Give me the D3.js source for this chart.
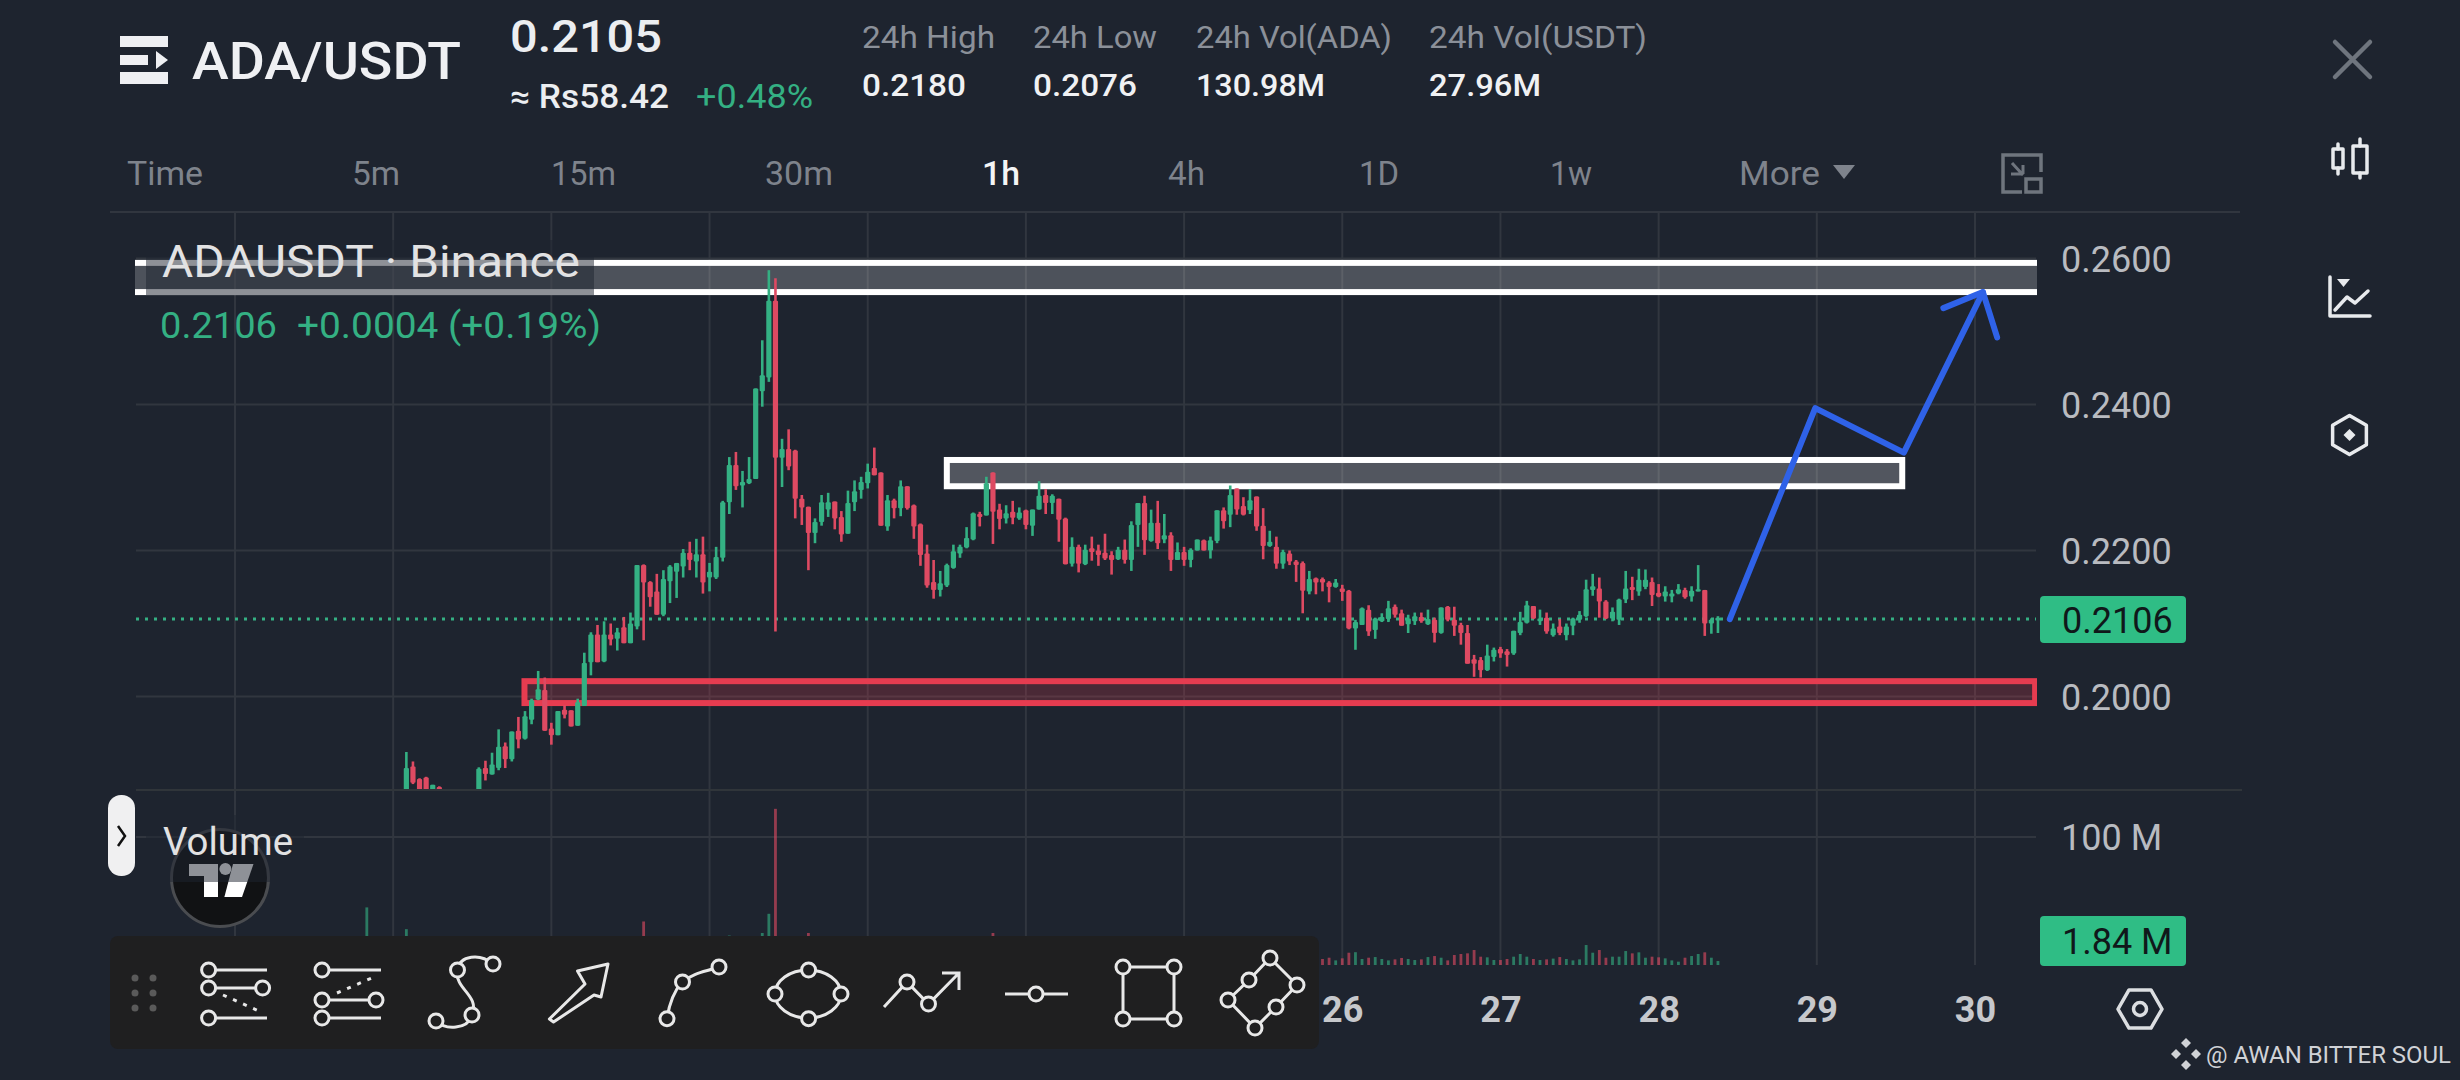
<!DOCTYPE html>
<html>
<head>
<meta charset="utf-8">
<title>ADA/USDT</title>
<script src="https://d3js.org/d3.v7.min.js"></script>
<style>
  html, body { margin: 0; padding: 0; background: #1e242f; }
  svg { display: block; font-family: Roboto, sans-serif; }
</style>
</head>
<body>
<div id="chart"></div>
<script>
// hourly candles, first one is day 19 at 20:00 (the first ones sit below the pane)
const startDay = 19 + 20 / 24;
const opens = [
  .1800,.1825,.1820,.1828,.1835,.1842,
  .1865,.1904,.1887,.1889,.1860,.1876,.1855,.1850,.1858,.1852,
  .1860,.1868,.1902,.1893,.1902,.1932,.1914,.1953,.1942,.1968,
  .1996,.2009,.1956,.1947,.1982,.1981,.1960,.1987,.2047,.2085,
  .2048,.2085,.2079,.2095,.2073,.2096,.2180,.2157,.2144,.2112,
  .2158,.2171,.2178,.2197,.2185,.2195,.2163,.2163,.2190,.2266,
  .2317,.2289,.2292,.2298,.2418,.2437,.2542,.2327,.2339,.2337,
  .2271,.2260,.2224,.2239,.2256,.2267,.2246,.2223,.2266,.2283,
  .2292,.2313,.2307,.2233,.2269,.2258,.2288,.2262,.2236,.2196,
  .2157,.2146,.2152,.2176,.2196,.2204,.2215,.2250,.2248,.2307,
  .2256,.2244,.2253,.2244,.2255,.2234,.2256,.2276,.2265,.2271,
  .2244,.2182,.2205,.2181,.2203,.2200,.2197,.2194,.2188,.2201,
  .2187,.2235,.2265,.2213,.2238,.2215,.2221,.2187,.2198,.2187,
  .2200,.2214,.2200,.2213,.2255,.2249,.2285,.2261,.2255,.2274,
  .2234,.2206,.2205,.2182,.2196,.2185,.2183,.2144,.2162,.2161,
  .2156,.2150,.2148,.2145,.2093,.2098,.2119,.2091,.2103,.2106,
  .2123,.2114,.2099,.2103,.2109,.2099,.2105,.2087,.2123,.2105,
  .2098,.2087,.2051,.2050,.2036,.2054,.2065,.2062,.2059,.2087,
  .2101,.2124,.2103,.2108,.2084,.2096,.2084,.2097,.2105,.2110,
  .2146,.2148,.2130,.2107,.2105,.2133,.2150,.2144,.2150,.2157,
  .2142,.2137,.2137,.2141,.2146,.2137,.2144,.2146,.2100,.2104
];
const highs = [
  .1830,.1835,.1832,.1840,.1848,.1860,
  .1924,.1911,.1888,.1890,.1879,.1877,.1868,.1862,.1870,.1866,
  .1870,.1903,.1912,.1923,.1955,.1937,.1952,.1972,.1980,.1997,
  .2035,.2026,.1964,.1980,.1988,.1981,.1997,.2060,.2088,.2098,
  .2103,.2100,.2094,.2109,.2115,.2180,.2181,.2158,.2168,.2173,
  .2180,.2183,.2202,.2212,.2216,.2219,.2183,.2205,.2268,.2328,
  .2335,.2309,.2328,.2422,.2488,.2584,.2573,.2353,.2366,.2338,
  .2276,.2260,.2244,.2276,.2279,.2267,.2254,.2282,.2296,.2301,
  .2319,.2341,.2307,.2276,.2271,.2296,.2288,.2263,.2237,.2208,
  .2187,.2172,.2182,.2208,.2208,.2232,.2252,.2253,.2301,.2307,
  .2264,.2262,.2268,.2259,.2256,.2256,.2295,.2284,.2277,.2271,
  .2245,.2218,.2208,.2208,.2219,.2208,.2223,.2199,.2205,.2215,
  .2240,.2265,.2275,.2256,.2268,.2250,.2225,.2211,.2205,.2203,
  .2215,.2215,.2219,.2255,.2259,.2289,.2285,.2273,.2284,.2274,
  .2258,.2227,.2219,.2201,.2200,.2187,.2185,.2172,.2163,.2163,
  .2158,.2161,.2153,.2146,.2105,.2122,.2125,.2108,.2114,.2131,
  .2126,.2119,.2112,.2115,.2115,.2119,.2108,.2122,.2124,.2123,
  .2101,.2098,.2057,.2054,.2071,.2067,.2068,.2065,.2090,.2116,
  .2131,.2124,.2119,.2115,.2100,.2106,.2100,.2108,.2117,.2160,
  .2168,.2163,.2132,.2122,.2134,.2172,.2164,.2175,.2174,.2163,
  .2154,.2151,.2146,.2154,.2149,.2151,.2180,.2146,.2107,.2110
];
const lows = [
  .1790,.1815,.1812,.1820,.1830,.1838,
  .1860,.1880,.1868,.1865,.1855,.1850,.1845,.1840,.1850,.1845,
  .1855,.1865,.1885,.1893,.1899,.1902,.1911,.1929,.1941,.1962,
  .1995,.1953,.1934,.1947,.1970,.1959,.1960,.1987,.2029,.2047,
  .2047,.2070,.2063,.2073,.2073,.2092,.2077,.2123,.2112,.2110,
  .2128,.2135,.2163,.2173,.2163,.2141,.2144,.2161,.2185,.2250,
  .2283,.2259,.2291,.2298,.2397,.2431,.2089,.2287,.2310,.2244,
  .2235,.2173,.2210,.2234,.2246,.2229,.2212,.2223,.2254,.2271,
  .2285,.2303,.2234,.2227,.2244,.2247,.2256,.2216,.2179,.2149,
  .2134,.2137,.2150,.2175,.2190,.2203,.2214,.2233,.2248,.2209,
  .2229,.2237,.2236,.2242,.2229,.2220,.2256,.2250,.2250,.2212,
  .2181,.2178,.2170,.2180,.2186,.2179,.2187,.2167,.2187,.2182,
  .2172,.2205,.2194,.2212,.2202,.2210,.2172,.2187,.2179,.2177,
  .2200,.2200,.2189,.2210,.2230,.2232,.2249,.2248,.2250,.2227,
  .2188,.2205,.2175,.2175,.2180,.2157,.2114,.2140,.2140,.2144,
  .2129,.2149,.2131,.2092,.2064,.2098,.2083,.2079,.2102,.2102,
  .2108,.2097,.2087,.2098,.2101,.2098,.2074,.2086,.2103,.2083,
  .2071,.2045,.2027,.2026,.2035,.2048,.2053,.2041,.2057,.2084,
  .2100,.2106,.2098,.2086,.2082,.2084,.2077,.2084,.2101,.2109,
  .2138,.2108,.2106,.2103,.2098,.2128,.2132,.2138,.2147,.2124,
  .2136,.2130,.2129,.2140,.2134,.2130,.2144,.2083,.2086,.2087
];
const closes = [
  .1825,.1820,.1828,.1835,.1842,.1855,
  .1902,.1882,.1870,.1868,.1879,.1855,.1850,.1858,.1852,.1860,
  .1866,.1901,.1894,.1907,.1931,.1914,.1952,.1941,.1973,.1995,
  .2010,.1953,.1947,.1980,.1975,.1959,.1992,.2046,.2085,.2047,
  .2085,.2078,.2088,.2073,.2100,.2180,.2156,.2136,.2112,.2161,
  .2178,.2183,.2197,.2187,.2195,.2156,.2171,.2191,.2266,.2317,
  .2288,.2294,.2298,.2422,.2440,.2542,.2327,.2339,.2315,.2271,
  .2259,.2224,.2239,.2266,.2266,.2244,.2222,.2265,.2281,.2294,
  .2308,.2303,.2234,.2269,.2258,.2288,.2258,.2233,.2194,.2152,
  .2146,.2155,.2180,.2199,.2205,.2217,.2251,.2246,.2292,.2253,
  .2243,.2251,.2245,.2252,.2235,.2256,.2275,.2265,.2275,.2242,
  .2181,.2205,.2182,.2201,.2198,.2194,.2189,.2187,.2201,.2187,
  .2235,.2265,.2214,.2238,.2210,.2221,.2187,.2198,.2187,.2201,
  .2215,.2200,.2214,.2255,.2240,.2276,.2256,.2249,.2269,.2233,
  .2206,.2212,.2182,.2198,.2185,.2180,.2145,.2161,.2156,.2156,
  .2150,.2156,.2143,.2093,.2102,.2121,.2089,.2107,.2109,.2121,
  .2112,.2097,.2107,.2110,.2103,.2106,.2087,.2122,.2105,.2097,
  .2087,.2045,.2045,.2036,.2056,.2064,.2059,.2057,.2090,.2102,
  .2125,.2107,.2107,.2089,.2093,.2087,.2096,.2107,.2112,.2147,
  .2151,.2130,.2107,.2116,.2133,.2148,.2146,.2160,.2160,.2139,
  .2137,.2144,.2141,.2147,.2136,.2145,.2147,.2100,.2105,.2108
];
// volume in millions, most of them hide behind the drawing toolbar
const volumes = [
  45,9,8,10,12,14,
  28,12,9,8,7,6,5,6,5,6,
  7,10,9,11,12,10,13,11,14,15,
  18,17,12,15,9,8,14,17,16,12,
  14,9,10,12,13,19,34,14,13,12,
  11,10,13,12,11,15,9,10,18,23,
  14,10,9,20,25,40,122,20,16,18,
  12,25,11,10,9,8,10,12,11,9,
  10,13,15,11,9,10,8,9,12,16,
  13,9,10,11,8,9,10,8,14,25,
  12,8,9,7,8,9,11,8,7,10,
  13,9,8,9,7,8,8,9,7,8,
  11,12,14,8,10,9,10,7,6,7,
  6,7,8,9,8,12,9,7,8,10,
  9,7,8,7,6,8,9,6,7,4.7,
  5.7,3.6,5.2,9.6,10,4.7,5.7,6.2,4.7,3.6,
  4.4,5.5,4.7,3.9,4.4,6.2,7,5.7,3.6,7.8,
  8.6,9.1,11.7,6.5,6,3.9,3.9,4.7,6.5,8.6,
  6.5,4.7,3.9,4.4,5,6.2,4.7,3.6,4.4,15.6,
  9.6,11.7,5.7,6.5,6.5,10.9,9.1,9.9,5.7,6.5,
  6,5.2,3.6,2.6,5.7,7,8.6,9.9,5.7,3.1
];
const priceTicks = [0.26, 0.24, 0.22, 0.20];
const dayTicks = [19, 20, 21, 22, 23, 24, 25, 26, 27, 28, 29, 30];
const dayLabels = [26, 27, 28, 29, 30];
const volumeTick = 100;
const lastPrice = 0.2106;
const lastVolumeLabel = "1.84 M";

// drawings on the chart: [day left, day right, price top, price bottom]
const resistanceTop = [18, 31, 0.2594, 0.2554];
const resistanceMid = [23.5, 29.54, 0.2324, 0.2288];
const supportZone = [20.83, 30.38, 0.2021, 0.1991];
const forecastDays = [28.45, 28.99, 29.55, 30.05];
const forecastPrices = [0.2106, 0.2395, 0.2334, 0.2554];
const arrowDays = [29.80, 30.05, 30.14];
const arrowPrices = [0.2532, 0.2554, 0.2492];

const statLabels = ["24h High", "24h Low", "24h Vol(ADA)", "24h Vol(USDT)"];
const statValues = ["0.2180", "0.2076", "130.98M", "27.96M"];
const statX = [862, 1033, 1196, 1429];
const statLabelW = [133, 124, 196, 218];
const statValueW = [104, 104, 129, 112];
const tabs = ["Time", "5m", "15m", "30m", "1h", "4h", "1D", "1w", "More"];
const tabX = [127, 352, 551, 765, 982, 1168, 1359, 1550, 1739];
const tabW = [76, 48, 65, 68, 38, 37, 40, 42, 81];

const bg = "#1e242f", green = "#34b083", red = "#de4a62", gridCol = "#31363f";
const W = 2460, H = 1080;
const svg = d3.select("#chart").append("svg").attr("width", W).attr("height", H);
svg.append("rect").attr("width", W).attr("height", H).attr("fill", bg);

const x = d3.scaleLinear().domain([19, 30]).range([235, 1975]);
const y = d3.scaleLinear().domain([0.20, 0.26]).range([696.5, 258.5]);
const yVol = d3.scaleLinear().domain([0, 100]).range([965, 837]);
const candleX = i => x(startDay + i / 24);

const defs = svg.append("defs");
defs.append("clipPath").attr("id", "pricePane").append("rect")
  .attr("x", 135).attr("y", 212).attr("width", 1902).attr("height", 577);
defs.append("clipPath").attr("id", "volPane").append("rect")
  .attr("x", 135).attr("y", 790).attr("width", 1902).attr("height", 175);

// grid
const grid = svg.append("g").attr("stroke", gridCol).attr("stroke-width", 2);
grid.selectAll("line.v").data(dayTicks).join("line").attr("class", "v")
  .attr("x1", d => x(d)).attr("x2", d => x(d)).attr("y1", 212).attr("y2", 965);
grid.selectAll("line.h").data(priceTicks).join("line").attr("class", "h")
  .attr("x1", 136).attr("x2", 2036).attr("y1", d => y(d)).attr("y2", d => y(d));
grid.append("line").attr("x1", 136).attr("x2", 2036).attr("y1", yVol(volumeTick)).attr("y2", yVol(volumeTick));
grid.append("line").attr("x1", 110).attr("x2", 2240).attr("y1", 212).attr("y2", 212);
grid.append("line").attr("x1", 136).attr("x2", 2242).attr("y1", 790).attr("y2", 790).attr("stroke", "#30353a");

// zones
const pane = svg.append("g").attr("clip-path", "url(#pricePane)");
function zone(z, col, fill) {
  pane.append("rect")
    .attr("x", x(z[0])).attr("width", x(z[1]) - x(z[0]))
    .attr("y", y(z[2])).attr("height", y(z[3]) - y(z[2]))
    .attr("fill", fill).attr("stroke", col).attr("stroke-width", 6);
}
zone(resistanceTop, "#ffffff", "rgba(255,255,255,0.21)");
zone(resistanceMid, "#ffffff", "rgba(255,255,255,0.23)");
zone(supportZone, "#e63c50", "rgba(230,60,80,0.22)");

// last price dotted line
pane.append("line")
  .attr("x1", 136).attr("x2", 2036).attr("y1", y(lastPrice)).attr("y2", y(lastPrice))
  .attr("stroke", green).attr("stroke-width", 3).attr("stroke-dasharray", "3 6");

// candles
const idx = d3.range(opens.length);
const colorOf = i => closes[i] >= opens[i] ? green : red;
pane.selectAll("line.wick").data(idx).join("line").attr("class", "wick")
  .attr("x1", candleX).attr("x2", candleX)
  .attr("y1", i => y(highs[i])).attr("y2", i => y(lows[i]))
  .attr("stroke", colorOf).attr("stroke-width", 2.6);
pane.selectAll("rect.body").data(idx).join("rect").attr("class", "body")
  .attr("x", i => candleX(i) - 2.6).attr("width", 5.2)
  .attr("y", i => y(Math.max(opens[i], closes[i])))
  .attr("height", i => Math.max(1.5, Math.abs(y(opens[i]) - y(closes[i]))))
  .attr("rx", 1).attr("fill", colorOf);

// forecast line with arrow head
const fl = d3.line().x(d => x(d[0])).y(d => y(d[1]));
const forecast = svg.append("g").attr("fill", "none").attr("stroke", "#2f62e8")
  .attr("stroke-width", 6).attr("stroke-linecap", "round").attr("stroke-linejoin", "round");
forecast.append("path").attr("d", fl(d3.zip(forecastDays, forecastPrices)));
forecast.append("path").attr("d", fl(d3.zip(arrowDays, arrowPrices)));

// volume
svg.append("g").attr("clip-path", "url(#volPane)")
  .selectAll("rect").data(idx).join("rect")
  .attr("x", i => candleX(i) - 1.4).attr("width", 2.8)
  .attr("y", i => yVol(volumes[i])).attr("height", i => yVol(0) - yVol(volumes[i]))
  .attr("fill", colorOf).attr("opacity", 0.62);

// axes on the right and bottom
const priceAxis = svg.append("g").call(d3.axisRight(y).tickValues(priceTicks).tickSize(0).tickFormat(d3.format(".4f")))
  .attr("transform", "translate(2061,0)");
priceAxis.select(".domain").remove();
priceAxis.selectAll("text").attr("x", 0).attr("fill", "#b9bbc0").attr("font-size", 36).attr("font-family", "Roboto").attr("dy", "0.36em");
const volAxis = svg.append("g").call(d3.axisRight(yVol).tickValues([volumeTick]).tickSize(0).tickFormat(d => d + " M"))
  .attr("transform", "translate(2061,0)");
volAxis.select(".domain").remove();
volAxis.selectAll("text").attr("x", 0).attr("fill", "#b9bbc0").attr("font-size", 36).attr("font-family", "Roboto").attr("dy", "0.36em");
const dayAxis = svg.append("g").attr("transform", "translate(0,1022)")
  .call(d3.axisBottom(x).tickValues(dayLabels).tickSize(0).tickFormat(d3.format("d")));
dayAxis.select(".domain").remove();
dayAxis.selectAll("text").attr("y", 0).attr("dy", 0).attr("fill", "#c6c8cc").attr("font-size", 36)
  .attr("font-weight", 700).attr("font-family", "Roboto");

// the app font is wider than Roboto, so text is stretched to its measured width
function txt(s, tx, ty, size, col, weight, width) {
  const t = svg.append("text").text(s).attr("x", tx).attr("y", ty).attr("font-size", size)
    .attr("fill", col).attr("font-weight", weight || 400);
  if (width) t.attr("textLength", width).attr("lengthAdjust", "spacingAndGlyphs");
  return t;
}
function tag(ty, h, label) {
  svg.append("rect").attr("x", 2040).attr("y", ty).attr("width", 146).attr("height", h).attr("rx", 4).attr("fill", "#2fbd85");
  txt(label, 2062, ty + h / 2 + 13, 36, "#10181a");
}
tag(596, 47, d3.format(".4f")(lastPrice));
tag(916, 50, lastVolumeLabel);

// header
const head = svg.append("g").attr("fill", "#eff0f3");
head.append("rect").attr("x", 120).attr("y", 36).attr("width", 48).attr("height", 11);
head.append("rect").attr("x", 120).attr("y", 72).attr("width", 48).attr("height", 12);
head.append("rect").attr("x", 120).attr("y", 55).attr("width", 28).attr("height", 10);
head.append("path").attr("d", "M156,51 L168,60 L156,69 Z");
txt("ADA/USDT", 192, 79, 51, "#eff0f3", 500, 269);
txt("0.2105", 510, 52, 45, "#eceef1", 500, 152);
txt("≈ Rs58.42", 510, 108, 33, "#eceef1", 500, 159);
txt("+0.48%", 696, 108, 33, green, 400, 117);
statLabels.forEach((s, i) => txt(s, statX[i], 48, 31, "#8b9099", 400, statLabelW[i]));
statValues.forEach((s, i) => txt(s, statX[i], 96, 31, "#f0f1f3", 500, statValueW[i]));
tabs.forEach((s, i) => txt(s, tabX[i], 185, 33, s === "1h" ? "#f4f5f6" : "#7e838c", s === "1h" ? 500 : 400, tabW[i]));
svg.append("path").attr("d", "M1833,165 L1855,165 L1844,179 Z").attr("fill", "#7e838c");

// collapse icon
const gray = svg.append("g").attr("fill", "none").attr("stroke", "#6f757e").attr("stroke-width", 3.5);
gray.append("path").attr("d", "M2022,192 L2003,192 L2003,155 L2041,155 L2041,172");
gray.append("rect").attr("x", 2026).attr("y", 179).attr("width", 15).attr("height", 13);
gray.append("path").attr("d", "M2012,163 L2023,175 M2011,174 L2023,174 M2023,174 L2023,165").attr("stroke-width", 3);

// legend over the band
svg.append("rect").attr("x", 146).attr("y", 240).attr("width", 448).attr("height", 55).attr("fill", bg).attr("opacity", 0.5);
txt("ADAUSDT · Binance", 162, 277, 45, "#e2e2e3", 400, 418);
txt("0.2106", 160, 338, 37, green, 400, 117);
txt("+0.0004 (+0.19%)", 297, 338, 37, green, 400, 304);

// side icons
const side = svg.append("g").attr("fill", "none").attr("stroke", "#e8eaed").attr("stroke-width", 3.5)
  .attr("stroke-linecap", "round").attr("stroke-linejoin", "round");
side.append("path").attr("d", "M2335,42 L2370,77 M2370,42 L2335,77").attr("stroke", "#6f757e").attr("stroke-width", 4.5);
side.append("rect").attr("x", 2333).attr("y", 149).attr("width", 10).attr("height", 19);
side.append("rect").attr("x", 2353).attr("y", 146).attr("width", 14).attr("height", 27);
side.append("path").attr("d", "M2338,144 L2338,149 M2338,168 L2338,174 M2360,139 L2360,146 M2360,173 L2360,178");
side.append("path").attr("d", "M2330,277 L2330,316 L2370,316");
side.append("path").attr("d", "M2335,310 L2347,297 L2355,303 L2368,291");
side.append("path").attr("d", "M2337,279 L2350,279 L2343.5,287 Z").attr("fill", "#e8eaed").attr("stroke", "none");
const hex = (cx, cy, r, flat) => d3.range(6).map(k => {
  const a = (k * 60 + (flat ? 0 : 90)) * Math.PI / 180;
  return [cx + r * Math.cos(a), cy + r * Math.sin(a)];
});
side.append("path").attr("d", "M" + hex(2349.5, 435, 19.5, false).join("L") + "Z");
side.append("path").attr("d", "M2349.5,429 l6,6 l-6,6 l-6,-6 Z").attr("fill", "#e8eaed").attr("stroke", "none");
side.append("path").attr("d", "M" + hex(2140, 1009, 22, true).join("L") + "Z").attr("stroke", "#dcdee1");
side.append("circle").attr("cx", 2140).attr("cy", 1009).attr("r", 6.5).attr("stroke", "#dcdee1");

// watermark
const wm = svg.append("g").attr("fill", "#d0d2d6");
[[2186, 1043], [2176, 1054], [2196, 1054], [2186, 1065]].forEach(p => {
  wm.append("path").attr("d", `M${p[0]},${p[1] - 5} l5,5 l-5,5 l-5,-5 Z`);
});
txt("@ AWAN BITTER SOUL", 2206, 1063, 24, "#d0d2d6", 400, 245);

// pane handle and tradingview badge
svg.append("rect").attr("x", 108).attr("y", 795).attr("width", 27).attr("height", 81).attr("rx", 13).attr("fill", "#f0f0f1");
svg.append("path").attr("d", "M118,826 L125,836 L118,846").attr("fill", "none").attr("stroke", "#111").attr("stroke-width", 2.5);
svg.append("circle").attr("cx", 220).attr("cy", 878).attr("r", 48.5).attr("fill", "#111214").attr("stroke", "#4a4c50").attr("stroke-width", 3);
const tv = svg.append("g").attr("fill", "#fff");
tv.append("path").attr("d", "M189,864 L218,864 L218,897 L204,897 L204,876 L189,876 Z");
tv.append("circle").attr("cx", 225.4).attr("cy", 869).attr("r", 6);
tv.append("path").attr("d", "M233,864 L253.5,864 L242,897 L224.4,897 Z");
svg.append("rect").attr("x", 146).attr("y", 815).attr("width", 158).attr("height", 67).attr("fill", bg).attr("opacity", 0.5);
txt("Volume", 163, 855, 38, "#e2e2e3", 400, 130);

// drawing toolbar
svg.append("rect").attr("x", 110).attr("y", 936).attr("width", 1209).attr("height", 113).attr("rx", 8).attr("fill", "#1f1f20");
const bar = svg.append("g").attr("fill", "none").attr("stroke", "#e8e8e8").attr("stroke-width", 3);
const dots = svg.append("g").attr("fill", "#5a5a5a");
[135, 153].forEach(dx => [978, 993, 1008].forEach(dy => dots.append("circle").attr("cx", dx).attr("cy", dy).attr("r", 3.5)));
function knobs(list) {
  list.forEach(p => bar.append("circle").attr("cx", p[0]).attr("cy", p[1]).attr("r", 7).attr("fill", "#1f1f20"));
}
bar.append("path").attr("d", "M215,970 L267,970 M215,988 L256,988 M215,1018 L267,1018");
bar.append("path").attr("d", "M223,995 L261,1012").attr("stroke-dasharray", "4 7");
knobs([[208.6, 970], [208.6, 988], [262.6, 988], [208.6, 1018]]);
bar.append("path").attr("d", "M329,970 L381,970 M329,1000 L370,1000 M329,1018 L381,1018");
bar.append("path").attr("d", "M337,993 L374,977").attr("stroke-dasharray", "4 7");
knobs([[322, 970], [322, 1000], [376, 1000], [322, 1018]]);
bar.append("path").attr("d", "M457,970 C460,955 480,953 493,964 M457,970 C455,990 480,995 472,1015 M472,1015 C468,1030 445,1030 436,1021");
knobs([[493, 964], [457.5, 970], [472, 1015], [436, 1021]]);
bar.append("path").attr("d", "M608,964 L577.5,971 L585,984 L549.4,1019 L553.5,1022 L594,995 L601,997 Z").attr("stroke-linejoin", "round");
bar.append("path").attr("d", "M667,1018 C670,1000 675,990 682,982 C695,972 705,972 719,967");
knobs([[719, 967], [682.5, 982], [667, 1018.7]]);
bar.append("ellipse").attr("cx", 808).attr("cy", 994).attr("rx", 33).attr("ry", 24);
knobs([[808.6, 970], [775, 994], [841, 994], [808.6, 1018.7]]);
bar.append("path").attr("d", "M884,1007 L907,982 L928.5,1004 L959,973 M942,973 L959,973 L959,990");
knobs([[907, 982], [928.5, 1004]]);
bar.append("path").attr("d", "M1005,994 L1068,994");
knobs([[1036, 994]]);
bar.append("path").attr("d", "M1123,967 L1174,967 L1174,1019 L1123,1019 Z");
knobs([[1123, 967], [1174, 967], [1123, 1019], [1174, 1019]]);
bar.append("path").attr("d", "M1270,958 L1297,985 L1276,1007 L1255,1028 L1228,1000 L1249,980 Z");
knobs([[1270, 958], [1297, 985], [1249, 980], [1276, 1007], [1228, 1000], [1255, 1028]]);
</script>
</body>
</html>
